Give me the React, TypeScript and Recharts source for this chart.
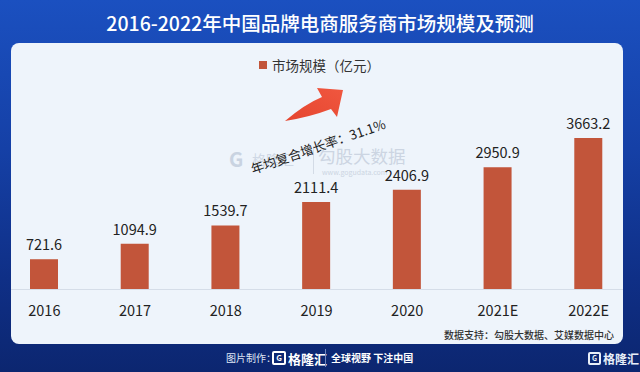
import React from 'react';
import { BarChart, Bar, XAxis, YAxis, LabelList } from 'recharts';

const categories = ['2016', '2017', '2018', '2019', '2020', '2021E', '2022E'];
const marketSize = [721.6, 1094.9, 1539.7, 2111.4, 2406.9, 2950.9, 3663.2];
const seriesName = '市场规模（亿元）';
const titleText = '2016-2022年中国品牌电商服务商市场规模及预测';
const cagrText = '年均复合增长率：31.1%';
const sourceText = '数据支持：勾股大数据、艾媒数据中心';

const data = categories.map((c, i) => ({ year: c, value: marketSize[i] }));

const FONT = '"Noto Sans CJK SC", "Noto Sans", sans-serif';
const BAR = '#c2553a';

const Logo = ({ x, y, size, color }: { x: number; y: number; size: number; color: string }) => (
  <div style={{ position: 'absolute', left: x, top: y, display: 'flex', alignItems: 'center', fontFamily: FONT, color, fontWeight: 700, fontSize: size, lineHeight: 1, whiteSpace: 'nowrap' }}>
    <span style={{ display: 'inline-block', border: `2px solid ${color}`, borderRadius: 2, width: size - 3, height: size - 3, fontSize: size - 5, textAlign: 'center', lineHeight: `${size - 3}px`, marginRight: 2 }}>G</span>
    <span>格隆汇</span>
  </div>
);

export default function App() {
  return (
    <div style={{ position: 'absolute', left: 0, top: 0, width: 640, height: 372, overflow: 'hidden', fontFamily: FONT,
      background: 'linear-gradient(180deg, #1b50c0 0%, #1540a6 40%, #0f2f86 75%, #0c2670 100%)' }}>
      <div style={{ position: 'absolute', left: 0, top: 10, width: 640, textAlign: 'center', color: '#fff', fontSize: 19.5, fontWeight: 500, lineHeight: '26px', whiteSpace: 'nowrap' }}>
        {titleText}
      </div>
      <div style={{ position: 'absolute', left: 11, top: 43, width: 612, height: 301, background: '#eef4fb', borderRadius: 8 }} />
      {/* baseline */}
      <div style={{ position: 'absolute', left: 11, top: 289, width: 612, height: 1, background: '#d5dde8' }} />
      {/* watermark */}
      <div style={{ position: 'absolute', left: 229, top: 149, color: '#c9d3e1', fontSize: 20, fontWeight: 700, lineHeight: 1 }}>G</div>
      <div style={{ position: 'absolute', left: 252, top: 152, color: '#cfd8e5', fontSize: 14, lineHeight: 1 }}>格隆汇</div>
      <div style={{ position: 'absolute', left: 313, top: 146, width: 1, height: 28, background: '#d3dbe6' }} />
      <div style={{ position: 'absolute', left: 318, top: 147, color: '#ccd5e2', fontSize: 17.5, lineHeight: 1 }}>勾股大数据</div>
      <div style={{ position: 'absolute', left: 322, top: 169, color: '#ccd5e2', fontSize: 7, lineHeight: 1 }}>www.gogudata.com</div>

      {/* legend */}
      <div style={{ position: 'absolute', left: 259, top: 57, display: 'flex', alignItems: 'center', fontSize: 13.5, color: '#333', whiteSpace: 'nowrap', lineHeight: '16px' }}>
        <span style={{ display: 'inline-block', width: 8, height: 8, background: BAR, marginRight: 5 }} />
        <span>{seriesName}</span>
      </div>

      <div style={{ position: 'absolute', left: -1, top: 0 }}>
        <BarChart width={640} height={372} data={data} margin={{ top: 124, right: 5, bottom: 53, left: 0 }}>
          <XAxis dataKey="year" axisLine={false} tickLine={false} tickMargin={11} height={30}
            tick={{ fontSize: 14.5, fill: '#222', fontFamily: FONT }} interval={0} />
          <YAxis hide domain={[0, 4000]} />
          <Bar dataKey="value" name={seriesName} fill={BAR} barSize={28} isAnimationActive={false}>
            <LabelList dataKey="value" position="top" offset={9} style={{ fontSize: 14.5, fill: '#222', fontFamily: FONT }} />
          </Bar>
        </BarChart>
      </div>

      <svg width={640} height={372} style={{ position: 'absolute', left: 0, top: 0, pointerEvents: 'none' }}>
        <defs>
          <linearGradient id="arr" x1="0" y1="1" x2="1" y2="0">
            <stop offset="0%" stopColor="#e5452f" />
            <stop offset="100%" stopColor="#f0573f" />
          </linearGradient>
        </defs>
        <path d="M285,121 Q305,104 322,97 L317,88 L343,90 L337,117 L331,109 Q310,117 285,121 Z" fill="url(#arr)" />
        <text x={318} y={146} textAnchor="middle" dominantBaseline="central" transform="rotate(-19 318 146)"
          style={{ fontSize: 13, fill: '#222', fontFamily: FONT }}>{cagrText}</text>
        <text x={614} y={334} textAnchor="end" dominantBaseline="central" style={{ fontSize: 10, fill: '#333', fontFamily: FONT, fontWeight: 500 }}>{sourceText}</text>
      </svg>

      {/* footer */}
      <div style={{ position: 'absolute', left: 226, top: 352, color: '#dfe6f5', fontSize: 10, lineHeight: '12px', whiteSpace: 'nowrap' }}>图片制作：</div>
      <Logo x={272} y={351} size={13} color="#ffffff" />
      <div style={{ position: 'absolute', left: 325, top: 349, width: 1, height: 18, background: '#6f86c0' }} />
      <div style={{ position: 'absolute', left: 331, top: 352, color: '#fff', fontSize: 10, fontWeight: 700, lineHeight: '12px', whiteSpace: 'nowrap' }}>全球视野 下注中国</div>
      <Logo x={588} y={352} size={12} color="#e8eef8" />
    </div>
  );
}
